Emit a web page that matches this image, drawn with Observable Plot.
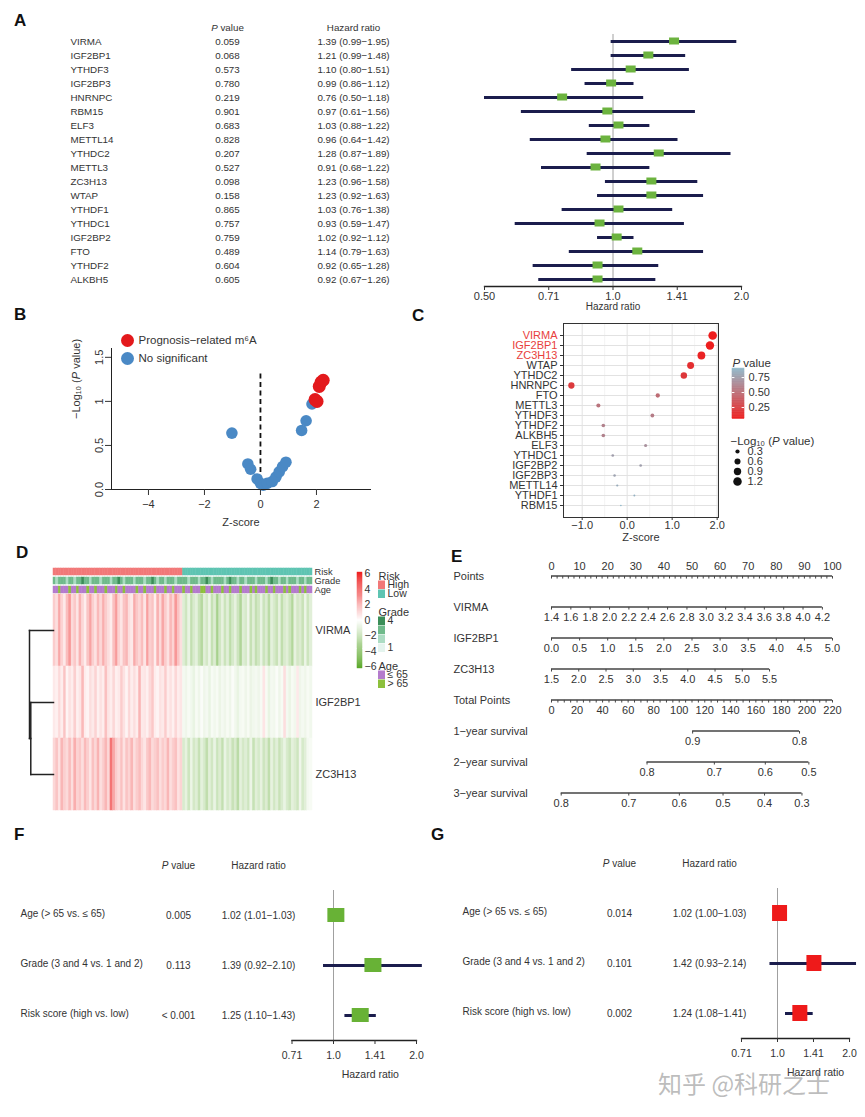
<!DOCTYPE html>
<html><head><meta charset="utf-8">
<script src="https://cdn.jsdelivr.net/npm/d3@7"></script>
<script src="https://cdn.jsdelivr.net/npm/@observablehq/plot@0.6"></script>
<style>
html,body{margin:0;padding:0;background:#fff;}
#fig{position:relative;width:865px;height:1117px;overflow:hidden;font-family:'Liberation Sans',Arial,sans-serif;background:#fff;}
.panel{position:absolute;line-height:0;}
.letter{position:absolute;font-weight:bold;font-size:17px;line-height:17px;color:#111;font-family:'Liberation Sans',Arial,sans-serif;}
.wm{position:absolute;font-family:'Noto Sans CJK SC',sans-serif;font-size:24px;line-height:28px;color:rgba(160,160,160,0.7);white-space:nowrap;}
</style></head><body><div id="fig"></div>
<script>
// ================= DATA =================
// Panel A: univariate Cox
const genesA = ["VIRMA","IGF2BP1","YTHDF3","IGF2BP3","HNRNPC","RBM15","ELF3","METTL14","YTHDC2","METTL3","ZC3H13","WTAP","YTHDF1","YTHDC1","IGF2BP2","FTO","YTHDF2","ALKBH5"];
const pA  = [0.059,0.068,0.573,0.780,0.219,0.901,0.683,0.828,0.207,0.527,0.098,0.158,0.865,0.757,0.759,0.489,0.604,0.605];
const hrA = [1.39,1.21,1.10,0.99,0.76,0.97,1.03,0.96,1.28,0.91,1.23,1.23,1.03,0.93,1.02,1.14,0.92,0.92];
const loA = [0.99,0.99,0.80,0.86,0.50,0.61,0.88,0.64,0.87,0.68,0.96,0.92,0.76,0.59,0.92,0.79,0.65,0.67];
const hiA = [1.95,1.48,1.51,1.12,1.18,1.56,1.22,1.42,1.89,1.22,1.58,1.63,1.38,1.47,1.12,1.63,1.28,1.26];
const hrTicks = [0.5, 0.7071, 1, 1.4142, 2];
const hrTickLabels = ["0.50","0.71","1.0","1.41","2.0"];
const hrTicksFG = [0.7071, 1, 1.4142, 2];
const hrTickLabelsFG = ["0.71","1.0","1.41","2.0"];

// Panel B: volcano-like scatter
const blueZ   = [-1.02,-0.45,-0.35,-0.12,0.00,0.10,0.24,0.42,0.55,0.67,0.79,0.91,1.47,1.63,1.84];
const blueNlp = [0.64,0.29,0.23,0.12,0.07,0.05,0.07,0.09,0.14,0.20,0.26,0.31,0.67,0.78,0.97];
const redZ    = [1.95,2.02,2.10,2.17,2.24];
const redNlp  = [1.02,1.00,1.17,1.22,1.24];
const dashTopB = 1.35;
const legendB = ["Prognosis−related m⁶A","No significant"];

// Panel C: z-scores
const genesC = ["VIRMA","IGF2BP1","ZC3H13","WTAP","YTHDC2","HNRNPC","FTO","METTL3","YTHDF3","YTHDF2","ALKBH5","ELF3","YTHDC1","IGF2BP2","IGF2BP3","METTL14","YTHDF1","RBM15"];
const zC = [1.90,1.84,1.65,1.41,1.26,-1.24,0.68,-0.64,0.56,-0.53,-0.53,0.41,-0.32,0.30,-0.28,-0.22,0.16,-0.14];
const sigGenes = ["VIRMA","IGF2BP1","ZC3H13"];
const sizeLegendC = [0.3,0.6,0.9,1.2];

// Panel D: heatmap (samples ordered High risk then Low risk)
const virmaHigh = [1.4,0.9,2.4,1.2,0.6,1.8,2.8,1.0,1.5,0.7,2.1,1.1,0.5,1.6,2.5,1.3,0.8,1.9,1.1,2.2,1.4,0.9,0.5,1.7,2.7,1.2,0.7,1.6,2.0,0.9,0.6,2.3,1.5,1.1,1.8,0.7,2.6,1.3,1.6,0.5,2.1,1.0,2.4,1.4,0.8,1.9,1.2,2.8,1.6,0.9];
const virmaLow  = [-1.2,-1.8,-0.8,-2.2,-1.4,-1.0,-2.0,-2.7,-1.1,-1.6,-0.7,-2.1,-1.3,-3.2,-1.7,-0.9,-1.9,-1.1,-2.4,-1.5,-0.9,-1.8,-2.9,-1.2,-1.5,-0.6,-2.1,-1.1,-2.2,-1.7,-0.8,-1.9,-1.3,-2.5,-1.0,-1.5,-2.0,-0.9,-2.3,-1.4,-1.1,-1.8,-2.8,-0.9,-1.6,-1.3,-2.0,-0.7,-1.8,-1.1];
const igfHigh   = [0.6,0.4,1.0,0.5,1.6,0.3,0.8,0.5,1.3,0.4,0.7,1.9,0.5,0.3,0.9,0.6,1.2,0.4,0.8,0.5,1.7,0.7,0.5,1.1,0.4,0.6,1.4,0.8,0.3,1.1,0.5,0.9,0.5,2.0,0.6,0.7,0.4,1.0,1.5,0.5,0.3,0.8,0.6,1.4,0.5,0.8,0.4,1.1,0.5,0.7];
const igfLow    = [-0.4,-0.6,-0.3,-0.5,-0.8,-0.3,-0.6,-0.2,-0.6,-0.4,-0.8,-0.3,-0.5,-0.3,-0.7,-0.4,-0.6,-0.3,-0.6,-0.2,-0.5,-0.8,-0.4,-0.3,-0.6,-0.3,-0.7,-0.5,-0.4,-0.6,-0.3,0.7,-0.3,-0.8,-0.4,-0.5,-0.2,-0.6,-0.3,0.9,-0.4,-0.7,-0.3,-0.5,0.6,-0.6,-0.4,-0.6,-0.3,-0.5];
const zcHigh    = [1.1,1.6,0.8,2.0,1.3,1.0,1.8,0.9,2.2,1.2,1.5,0.9,1.9,1.3,0.7,1.7,1.1,2.1,0.9,1.4,2.0,1.1,3.8,2.4,1.4,1.0,1.7,0.8,1.6,1.2,2.0,0.9,1.4,1.8,1.1,0.7,1.5,1.9,1.0,1.3,1.7,0.9,1.4,1.1,2.0,0.9,1.4,1.7,0.8,1.2];
const zcLow     = [-1.4,-0.9,-1.8,-0.7,-1.6,-1.2,-2.1,-1.0,-1.5,-2.3,-1.1,-1.7,-0.8,-1.9,-1.3,-2.2,-0.8,-1.5,-1.1,-2.0,-1.4,-2.5,-1.0,-1.6,-1.2,-1.8,-0.7,-2.1,-1.1,-1.5,-0.9,-1.8,-1.3,-2.3,-0.9,-1.7,-1.1,-2.0,-1.4,-0.8,-1.5,-1.9,-1.0,-1.3,-1.8,-0.6,-1.5,-1.1,-0.4,-0.3];
const gradeVals = [3,2,3,3,3,2,3,3,2,3,3,4,3,3,2,3,3,3,2,3,3,3,2,3,3,4,3,2,3,3,3,2,3,3,3,2,3,3,4,3,2,3,3,2,3,3,3,2,3,3,3,3,2,3,3,3,2,3,3,4,3,2,3,3,3,3,2,3,4,3,3,2,3,3,2,3,3,3,2,3,3,3,2,3,4,3,3,2,3,3,2,3,3,3,2,3,3,2,3,3];
const ageVals   = [1,1,2,1,1,1,2,1,1,2,1,1,1,2,1,1,2,1,1,1,2,1,1,1,2,1,1,2,1,1,1,1,2,1,1,2,1,1,1,2,1,1,1,2,1,1,2,1,1,1,2,1,1,2,1,1,1,2,2,1,1,2,1,1,1,2,1,1,2,1,1,1,2,1,1,1,2,1,2,1,1,1,2,1,1,2,1,1,1,2,1,2,1,1,1,2,1,2,1,1];
const heatGenes = ["VIRMA","IGF2BP1","ZC3H13"];
const dendroMerges = [{id:"c1", a:"IGF2BP1", b:"ZC3H13", h:5.3},{id:"root", a:"VIRMA", b:"c1", h:5.6}];
const heatTicks = [-6,-4,-2,0,2,4,6];

// Panel E: nomogram
const nomoRows = ["Points","VIRMA","IGF2BP1","ZC3H13","Total Points","1−year survival","2−year survival","3−year survival"];
const pointsLabels = [0,10,20,30,40,50,60,70,80,90,100];
const virmaLabels = [1.4,1.6,1.8,2.0,2.2,2.4,2.6,2.8,3.0,3.2,3.4,3.6,3.8,4.0,4.2];
const igfLabels = [0,0.5,1,1.5,2,2.5,3,3.5,4,4.5,5];
const zcLabels = [1.5,2,2.5,3,3.5,4,4.5,5,5.5];
const totalLabels = [0,20,40,60,80,100,120,140,160,180,200,220];
const nomoMap = {VIRMA:{values:[1.4,4.2],points:[0,96.4]}, IGF2BP1:{values:[0,5],points:[0,100]}, ZC3H13:{values:[1.5,5.5],points:[0,77.6]}};
const totalPointsMax = 220;
const survival = [
  {row:"1−year survival", values:[0.9,0.8], totals:[110.5,194.2]},
  {row:"2−year survival", values:[0.8,0.7,0.6,0.5], totals:[74.8,127.5,167.4,201.5]},
  {row:"3−year survival", values:[0.8,0.7,0.6,0.5,0.4,0.3], totals:[7.6,60.5,100.1,134.3,166.8,196.1]}
];

// Panels F & G: multivariate Cox
const keysFG = ["Age","Grade","Risk"];
const labelsFG = ["Age (> 65 vs. ≤ 65)","Grade (3 and 4 vs. 1 and 2)","Risk score (high vs. low)"];
const pF = ["0.005","0.113","< 0.001"], hrF = [1.02,1.39,1.25], loF = [1.01,0.92,1.10], hiF = [1.03,2.10,1.43];
const pG = ["0.014","0.101","0.002"], hrG = [1.02,1.42,1.24], loG = [1.00,0.93,1.08], hiG = [1.03,2.14,1.41];

// ================= HELPERS =================
const FONT = "'Liberation Sans', Arial, Helvetica, sans-serif";
const INK = "#333";
const NAVY = "#1b1d4d";
const fig = document.getElementById("fig");
function mk(o, fs = 10) {
  return Plot.plot({...o, style: {background: "transparent", fontFamily: FONT, fontSize: fs + "px", color: INK, overflow: "visible", maxWidth: "none"}});
}
function italicP(svg) {
  svg.querySelectorAll("text").forEach(t => {
    if (t.children.length) return;
    const s = t.textContent, i = s.indexOf("P value");
    if (i < 0) return;
    t.textContent = "";
    if (i > 0) t.appendChild(document.createTextNode(s.slice(0, i)));
    const it = document.createElementNS("http://www.w3.org/2000/svg", "tspan");
    it.setAttribute("font-style", "italic"); it.textContent = "P";
    t.appendChild(it);
    t.appendChild(document.createTextNode(s.slice(i + 1)));
  });
}
function place(svg, left, top) {
  const d = document.createElement("div");
  d.className = "panel"; d.style.left = left + "px"; d.style.top = top + "px";
  d.appendChild(svg); fig.appendChild(d); italicP(svg);
}
function letter(t, x, y) {
  const d = document.createElement("div"); d.className = "letter"; d.textContent = t;
  d.style.left = (x - 6) + "px"; d.style.top = (y - 9) + "px"; fig.appendChild(d);
}
const fmtCI = (h, l, u) => `${h.toFixed(2)} (${l.toFixed(2)}−${u.toFixed(2)})`;

// ================= PANEL A =================
const rowsA = genesA.map((g, i) => ({gene: g, p: pA[i], hr: hrA[i], lo: loA[i], hi: hiA[i]}));
place(mk({
  width: 460, height: 300, marginLeft: 0, marginRight: 0, marginTop: 20, marginBottom: 14,
  y: {type: "band", domain: ["_head", ...genesA], padding: 0, axis: null},
  marks: [
    Plot.text(["P value"], {y: () => "_head", frameAnchor: "left", textAnchor: "middle", dx: 227}),
    Plot.text(["Hazard ratio"], {y: () => "_head", frameAnchor: "left", textAnchor: "middle", dx: 353}),
    Plot.text(rowsA, {y: "gene", text: "gene", frameAnchor: "left", dx: 70, textAnchor: "start"}),
    Plot.text(rowsA, {y: "gene", text: d => d.p.toFixed(3), frameAnchor: "left", textAnchor: "middle", dx: 227}),
    Plot.text(rowsA, {y: "gene", text: d => fmtCI(d.hr, d.lo, d.hi), frameAnchor: "left", textAnchor: "middle", dx: 353})
  ]
}, 9.8), 0, 0);

place(mk({
  width: 865, height: 320, marginLeft: 484, marginRight: 124, marginTop: 34, marginBottom: 34,
  x: {type: "log", base: 2, domain: [0.5, 2], label: null},
  y: {type: "band", domain: genesA, padding: 0, axis: null, label: null},
  marks: [
    Plot.ruleX([1], {stroke: "#a0a0a0", strokeWidth: 1}),
    Plot.ruleY(rowsA, {y: "gene", x1: "lo", x2: "hi", stroke: NAVY, strokeWidth: 3}),
    Plot.tickX(rowsA, {y: "gene", x: "hr", stroke: "#6cb33f", strokeWidth: 10, insetTop: 3.5, insetBottom: 3.5}),
    Plot.frame({anchor: "bottom", stroke: "#222", strokeWidth: 1.3}),
    Plot.axisX({ticks: hrTicks, tickFormat: d => hrTickLabels[hrTicks.indexOf(d)], tickSize: 4, tickPadding: 2, label: null}),
    Plot.text(["Hazard ratio"], {frameAnchor: "bottom", dy: 23, fontSize: 10})
  ]
}, 11), 0, 0);

// ================= PANEL B =================
const blueB = blueZ.map((z, i) => ({z, nlp: blueNlp[i]}));
const redB = redZ.map((z, i) => ({z, nlp: redNlp[i]}));
const yLabB = {0: "0.0", 0.5: "0.5", 1: "1", 1.5: "1.5"};
place(mk({
  width: 400, height: 240, marginLeft: 111, marginRight: 30, marginTop: 48, marginBottom: 51,
  x: {domain: [-5.32, 3.93], label: null}, y: {domain: [0, 1.6], label: null},
  marks: [
    Plot.ruleX([0], {y1: 0, y2: dashTopB, stroke: "#111", strokeWidth: 1.8, strokeDasharray: "5,3.5"}),
    Plot.dot(blueB, {x: "z", y: "nlp", r: 5.8, fill: "#4a89c5"}),
    Plot.dot(redB, {x: "z", y: "nlp", r: 6.5, fill: "#e3191c"}),
    Plot.frame({anchor: "left", stroke: "#222"}),
    Plot.frame({anchor: "bottom", stroke: "#222"}),
    Plot.axisX({ticks: [-4, -2, 0, 2], tickSize: 6, tickPadding: 5, label: null}),
    Plot.axisY({ticks: [0, 0.5, 1, 1.5], tickFormat: d => yLabB[d], tickSize: 6, tickPadding: 3, tickRotate: -90, label: null}),
    Plot.text(["−Log₁₀ (P value)"], {frameAnchor: "left", rotate: -90, dx: -35}),
    Plot.text(["Z-score"], {frameAnchor: "bottom", dy: 36})
  ]
}, 11), 0, 300);

place(mk({
  width: 250, height: 38, marginLeft: 0, marginRight: 0, marginTop: 1, marginBottom: 1,
  y: {type: "band", domain: legendB, padding: 0, axis: null},
  marks: [
    Plot.dot(legendB, {y: d => d, frameAnchor: "left", dx: 17, r: 6.5, fill: (d, i) => i === 0 ? "#e3191c" : "#4a89c5"}),
    Plot.text(legendB, {y: d => d, frameAnchor: "left", dx: 28, textAnchor: "start"})
  ]
}, 11.5), 110, 330);

// ================= PANEL C =================
const dataC = genesC.map((g, i) => { const p = pA[genesA.indexOf(g)]; return {gene: g, z: zC[i], p, nlp: -Math.log10(p)}; });
const pMin = d3.min(pA), pMax = d3.max(pA), nlpMax = d3.max(dataC, d => d.nlp);
const colorC = {type: "linear", domain: [pMin, pMax], range: ["#ee1c1c", "#8fb8c9"], interpolate: "rgb"};
const rC = {domain: [0, nlpMax], range: [0, 4.3]};
place(mk({
  width: 465, height: 245, marginLeft: 163, marginRight: 147, marginTop: 23, marginBottom: 28,
  x: {domain: [-1.415, 2.03], label: null}, y: {type: "point", domain: genesC, padding: 0.6, label: null},
  color: colorC, r: rC,
  marks: [
    Plot.ruleX([-0.5, 0.5, 1.5], {stroke: "#efefef", strokeWidth: 0.7}),
    Plot.ruleX([-1, 0, 1, 2], {stroke: "#e2e2e2", strokeWidth: 1}),
    Plot.ruleY(genesC, {stroke: "#e2e2e2", strokeWidth: 1}),
    Plot.dot(dataC, {x: "z", y: "gene", r: "nlp", fill: "p"}),
    Plot.frame({stroke: "#333", strokeWidth: 1}),
    Plot.axisX({ticks: [-1, 0, 1, 2], tickSize: 3, tickPadding: 1, label: null}),
    Plot.axisY({tickSize: 3, tickFormat: () => "", label: null}),
    Plot.text(genesC.filter(g => sigGenes.includes(g)), {y: d => d, frameAnchor: "left", textAnchor: "end", dx: -6, fill: "#e8403c"}),
    Plot.text(genesC.filter(g => !sigGenes.includes(g)), {y: d => d, frameAnchor: "left", textAnchor: "end", dx: -6, fill: "#333"}),
    Plot.text(["Z-score"], {frameAnchor: "bottom", dy: 23})
  ]
}, 11), 400, 300);

// colour legend C
const stripsC = d3.range(80).map(i => { const a = pMin + (pMax - pMin) * i / 80, b = pMin + (pMax - pMin) * (i + 1) / 80; return {y1: a, y2: b, p: (a + b) / 2}; });
place(mk({
  width: 70, height: 80, marginLeft: 7, marginRight: 51, marginTop: 23, marginBottom: 6.5,
  x: {domain: [0, 1], axis: null}, y: {domain: [pMin, pMax], label: null}, color: colorC,
  marks: [
    Plot.rect(stripsC, {x1: 0, x2: 1, y1: "y1", y2: "y2", fill: "p", stroke: "p", strokeWidth: 0.4}),
    Plot.ruleY([0.25, 0.5, 0.75], {x1: 0, x2: 0.2, stroke: "white"}),
    Plot.ruleY([0.25, 0.5, 0.75], {x1: 0.8, x2: 1, stroke: "white"}),
    Plot.axisY({anchor: "right", ticks: [0.25, 0.5, 0.75], tickFormat: ".2f", tickSize: 0, tickPadding: 4, label: null}),
    Plot.text(["P value"], {frameAnchor: "top-left", textAnchor: "start", dy: -10, fontSize: 11.5})
  ]
}, 11), 725, 345);

// size legend C
place(mk({
  width: 90, height: 65, marginLeft: 7, marginRight: 20, marginTop: 20, marginBottom: 2.6,
  y: {type: "band", domain: sizeLegendC, padding: 0, axis: null}, r: rC,
  marks: [
    Plot.dot(sizeLegendC, {y: d => d, r: d => d, frameAnchor: "left", dx: 5, fill: "#111"}),
    Plot.text(sizeLegendC, {y: d => d, text: d => d.toFixed(1), frameAnchor: "left", dx: 15, textAnchor: "start"}),
    Plot.text(["−Log₁₀ (P value)"], {frameAnchor: "top-left", textAnchor: "start", dx: -2, dy: -9, fontSize: 11.5})
  ]
}, 11), 725, 425);

// ================= PANEL D =================
const exprRows = {VIRMA: [...virmaHigh, ...virmaLow], IGF2BP1: [...igfHigh, ...igfLow], ZC3H13: [...zcHigh, ...zcLow]};
const nHigh = virmaHigh.length, N = nHigh + virmaLow.length;
const samples = d3.range(N);
const riskColors = {High: "#f17878", Low: "#5ec4b2"};
const gradeColors = {1: "#e4f4ee", 2: "#acdcc3", 3: "#6fba8b", 4: "#3b8e58"};
const ageColors = {1: "#b47bcc", 2: "#8dc03c"};
const annCells = [];
samples.forEach(i => {
  annCells.push({i, row: "Risk", color: riskColors[i < nHigh ? "High" : "Low"]});
  annCells.push({i, row: "Grade", color: gradeColors[gradeVals[i]]});
  annCells.push({i, row: "Age", color: ageColors[ageVals[i]]});
});
place(mk({
  width: 400, height: 40, marginLeft: 53, marginRight: 88, marginTop: 7.5, marginBottom: 5.5,
  x: {type: "band", domain: samples, padding: 0, axis: null},
  y: {type: "band", domain: ["Risk", "Grade", "Age"], paddingInner: 0.2, paddingOuter: 0.1, label: null},
  marks: [
    Plot.cell(annCells, {x: "i", y: "row", fill: "color", stroke: "color", strokeWidth: 0.5, inset: 0}),
    Plot.axisY({anchor: "right", tickSize: 0, tickPadding: 2, label: null})
  ]
}, 9.3), 0, 560);

const heatColor = {type: "linear", domain: [-6, 0, 6], range: ["#5ca92b", "#ffffff", "#ee2323"], interpolate: "rgb"};
const heatCells = [];
heatGenes.forEach(g => exprRows[g].forEach((v, i) => heatCells.push({i, gene: g, v})));
place(mk({
  width: 400, height: 216, marginLeft: 53, marginRight: 88, marginTop: 0, marginBottom: 0,
  x: {type: "band", domain: samples, padding: 0, axis: null},
  y: {type: "band", domain: heatGenes, padding: 0, label: null},
  color: heatColor,
  marks: [
    Plot.cell(heatCells, {x: "i", y: "gene", fill: "v", stroke: "v", strokeWidth: 0.5, inset: 0}),
    Plot.axisY({anchor: "right", tickSize: 0, tickPadding: 3, label: null})
  ]
}, 11), 0, 594);

// dendrogram
const dnodes = {}; heatGenes.forEach((g, i) => dnodes[g] = {pos: i, h: 0});
const dsegs = [];
dendroMerges.forEach(m => {
  const A = dnodes[m.a], B = dnodes[m.b];
  dsegs.push({x1: A.h, y1: A.pos, x2: m.h, y2: A.pos}, {x1: B.h, y1: B.pos, x2: m.h, y2: B.pos}, {x1: m.h, y1: A.pos, x2: m.h, y2: B.pos});
  dnodes[m.id] = {pos: (A.pos + B.pos) / 2, h: m.h};
});
place(mk({
  width: 60, height: 216, marginLeft: 29, marginRight: 7, marginTop: 36, marginBottom: 36,
  x: {domain: [d3.max(dendroMerges, d => d.h), 0], axis: null}, y: {domain: [0, heatGenes.length - 1], reverse: true, axis: null},
  marks: [Plot.link(dsegs, {x1: "x1", y1: "y1", x2: "x2", y2: "y2", stroke: "#222", strokeWidth: 1.5, strokeLinecap: "square"})]
}), 0, 594);

// heat colour legend
const stripsD = d3.range(100).map(i => { const a = -6.2 + 12.4 * i / 100, b = -6.2 + 12.4 * (i + 1) / 100; return {y1: a, y2: b, v: (a + b) / 2}; });
place(mk({
  width: 40, height: 110, marginLeft: 12, marginRight: 23, marginTop: 7, marginBottom: 7,
  x: {domain: [0, 1], axis: null}, y: {domain: [-6.2, 6.2], label: null}, color: heatColor,
  marks: [
    Plot.rect(stripsD, {x1: 0, x2: 1, y1: "y1", y2: "y2", fill: "v", stroke: "v", strokeWidth: 0.4}),
    Plot.axisY({anchor: "right", ticks: heatTicks, tickSize: 0, tickPadding: 2, label: null})
  ]
}, 10.5), 345, 565);

// categorical legend D
const legendD = [
  {key: "t_risk", text: "Risk", title: true},
  {key: "High", text: "High", color: riskColors.High},
  {key: "Low", text: "Low", color: riskColors.Low},
  {key: "gap1"},
  {key: "t_grade", text: "Grade", title: true},
  {key: "G4", text: "4", color: gradeColors[4]},
  {key: "G3", text: "", color: gradeColors[3]},
  {key: "G2", text: "", color: gradeColors[2]},
  {key: "G1", text: "1", color: gradeColors[1]},
  {key: "gap2"},
  {key: "t_age", text: "Age", title: true},
  {key: "le65", text: "≤ 65", color: ageColors[1]},
  {key: "gt65", text: "> 65", color: ageColors[2]}
];
place(mk({
  width: 70, height: 125.7, marginLeft: 8, marginRight: 55, marginTop: 0, marginBottom: 0,
  x: {domain: [0, 1], axis: null}, y: {type: "band", domain: legendD.map(d => d.key), padding: 0, axis: null},
  marks: [
    Plot.barX(legendD.filter(d => d.color), {y: "key", x1: 0, x2: 1, fill: "color", insetTop: 0.5, insetBottom: 0}),
    Plot.text(legendD.filter(d => d.title), {y: "key", text: "text", frameAnchor: "left", textAnchor: "start", dx: 0, fontSize: 11}),
    Plot.text(legendD.filter(d => d.color && d.text), {y: "key", text: "text", frameAnchor: "left", textAnchor: "start", dx: 9})
  ]
}, 10.5), 370, 567);

// ================= PANEL E =================
const nomoLines = [], nomoTicks = [], labAbove = [], labBelow = [];
nomoLines.push({row: "Points", x1: 0, x2: 100});
d3.range(0, 100.001, 2).forEach(v => nomoTicks.push({row: "Points", x: v}));
pointsLabels.forEach(v => labAbove.push({row: "Points", x: v, text: String(v)}));
[["VIRMA", virmaLabels], ["IGF2BP1", igfLabels], ["ZC3H13", zcLabels]].forEach(([name, labels]) => {
  const m = nomoMap[name];
  const f = v => m.points[0] + (v - m.values[0]) / (m.values[1] - m.values[0]) * (m.points[1] - m.points[0]);
  nomoLines.push({row: name, x1: f(m.values[0]), x2: f(m.values[1])});
  labels.forEach(v => { nomoTicks.push({row: name, x: f(v)}); labBelow.push({row: name, x: f(v), text: v.toFixed(1)}); });
});
const tf = t => t / totalPointsMax * 100;
nomoLines.push({row: "Total Points", x1: 0, x2: 100});
d3.range(0, 220.001, 5).forEach(t => nomoTicks.push({row: "Total Points", x: tf(t)}));
totalLabels.forEach(t => labBelow.push({row: "Total Points", x: tf(t), text: String(t)}));
survival.forEach(s => {
  nomoLines.push({row: s.row, x1: tf(s.totals[0]), x2: tf(s.totals[s.totals.length - 1])});
  s.values.forEach((v, i) => { nomoTicks.push({row: s.row, x: tf(s.totals[i])}); labBelow.push({row: s.row, x: tf(s.totals[i]), text: v.toFixed(1)}); });
});
const bwE = 31.9;
place(mk({
  width: 425, height: nomoRows.length * bwE, marginLeft: 111, marginRight: 33, marginTop: 0, marginBottom: 0,
  x: {domain: [0, 100], axis: null}, y: {type: "band", domain: nomoRows, padding: 0, axis: null},
  marks: [
    Plot.ruleY(nomoLines, {y: "row", x1: "x1", x2: "x2", stroke: "#444", strokeWidth: 1.4}),
    Plot.tickX(nomoTicks, {x: "x", y: "row", stroke: "#444", strokeWidth: 1, insetTop: bwE / 2, insetBottom: bwE / 2 - 3.5}),
    Plot.text(labAbove, {x: "x", y: "row", text: "text", dy: -10}),
    Plot.text(labBelow, {x: "x", y: "row", text: "text", dy: 10}),
    Plot.text(nomoRows, {y: d => d, frameAnchor: "left", textAnchor: "start", dx: -98})
  ]
}, 11), 440, 556);

// ================= PANELS F & G =================
function coxPanel(keys, labels, ps, hr, lo, hi, opt) {
  const rows = keys.map((k, i) => ({key: k, label: labels[i], p: ps[i], hr: hr[i], lo: lo[i], hi: hi[i]}));
  place(mk({
    width: opt.tableWidth, height: 200, marginLeft: 0, marginRight: 0, marginTop: 0, marginBottom: 0,
    y: {type: "band", domain: ["_head", ...keys], padding: 0, axis: null},
    marks: [
      Plot.text(["P value"], {y: () => "_head", frameAnchor: "left", textAnchor: "middle", dx: opt.colP}),
      Plot.text(["Hazard ratio"], {y: () => "_head", frameAnchor: "left", textAnchor: "middle", dx: opt.colHR}),
      Plot.text(rows, {y: "key", text: "label", frameAnchor: "left", textAnchor: "start", dx: opt.colLabel, dy: -2}),
      Plot.text(rows, {y: "key", text: "p", frameAnchor: "left", textAnchor: "middle", dx: opt.colP}),
      Plot.text(rows, {y: "key", text: d => fmtCI(d.hr, d.lo, d.hi), frameAnchor: "left", textAnchor: "middle", dx: opt.colHR})
    ]
  }, 10), opt.left, opt.top);
  place(mk({
    width: opt.width, height: 240, marginLeft: opt.mL, marginRight: opt.mR, marginTop: 50, marginBottom: 40,
    x: {type: "log", base: 2, domain: [0.7071, 2], label: null},
    y: {type: "band", domain: keys, padding: 0, axis: null, label: null},
    marks: [
      Plot.ruleX([1], {stroke: "#a0a0a0", strokeWidth: 1}),
      Plot.ruleY(rows, {y: "key", x1: "lo", x2: "hi", stroke: NAVY, strokeWidth: 3}),
      Plot.tickX(rows, {y: "key", x: "hr", stroke: opt.box, strokeWidth: opt.boxW, insetTop: (50 - opt.boxH) / 2, insetBottom: (50 - opt.boxH) / 2}),
      Plot.frame({anchor: "bottom", stroke: "#222", strokeWidth: 1.3}),
      Plot.axisX({ticks: hrTicksFG, tickFormat: d => hrTickLabelsFG[hrTicksFG.indexOf(d)], tickSize: 4, tickPadding: 7, label: null}),
      Plot.text(["Hazard ratio"], {frameAnchor: "bottom", dy: 37, dx: opt.labDx})
    ]
  }, 10.5), opt.left, opt.top);
}
coxPanel(keysFG, labelsFG, pF, hrF, loF, hiF, {left: 0, top: 840, tableWidth: 440, colLabel: 20, colP: 178, colHR: 258, width: 440, mL: 291.5, mR: 24, box: "#68b236", boxW: 17, boxH: 14, labDx: 16});
coxPanel(keysFG, labelsFG, pG, hrG, loG, hiG, {left: 440, top: 838, tableWidth: 425, colLabel: 22, colP: 179, colHR: 269, width: 425, mL: 301, mR: 16, box: "#ee1a1a", boxW: 15, boxH: 16, labDx: 20});

// ================= LETTERS & WATERMARK =================
[["A", 20, 21], ["B", 20, 315], ["C", 418, 316], ["D", 22, 553], ["E", 457, 557], ["F", 20, 835], ["G", 437, 835]].forEach(d => letter(...d));
const wm = document.createElement("div"); wm.className = "wm"; wm.textContent = "知乎 @科研之士";
wm.style.left = "658px"; wm.style.top = "1069px"; fig.appendChild(wm);
</script></body></html>
